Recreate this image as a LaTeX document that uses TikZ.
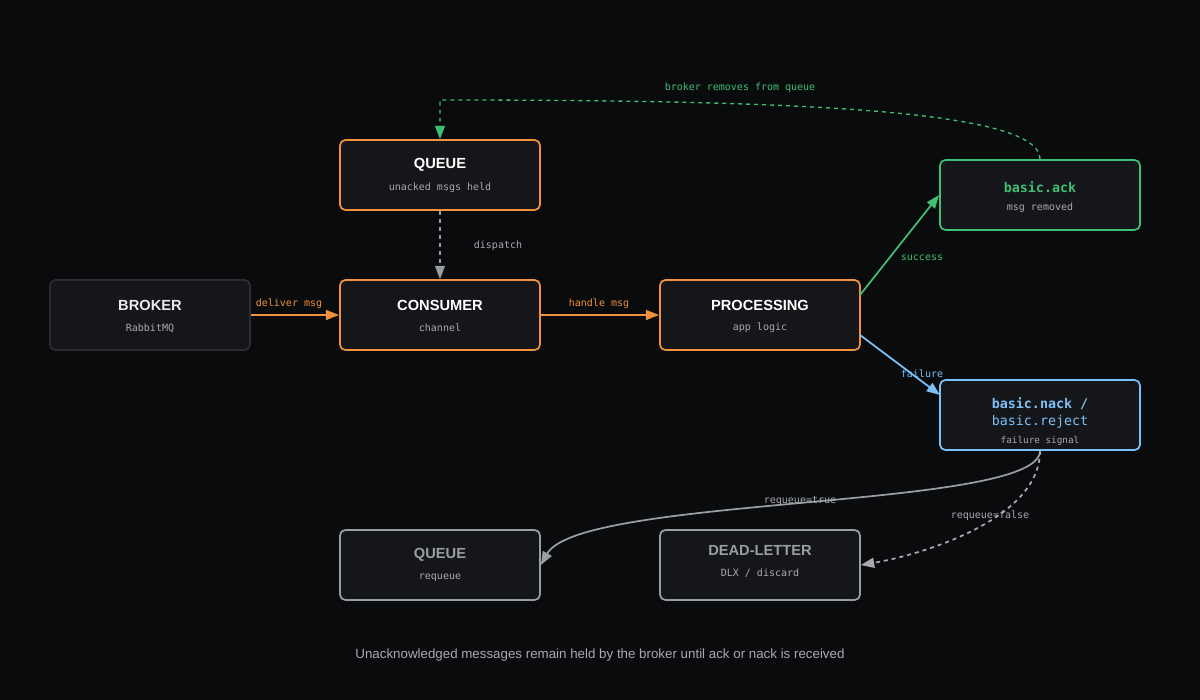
\documentclass[tikz,border=0pt]{standalone}
\usepackage{fontspec}
\setmainfont{Liberation Sans}
\setmonofont{DejaVu Sans Mono}
\usetikzlibrary{arrows.meta}
\definecolor{bg}{HTML}{0A0B0D}
\definecolor{boxf}{HTML}{15161A}
\definecolor{org}{HTML}{F0913F}
\definecolor{grn}{HTML}{3FBF73}
\definecolor{blu}{HTML}{7CC0F5}
\definecolor{gry}{HTML}{9A9DA3}
\definecolor{dgr}{HTML}{2C2D32}
\definecolor{sub}{HTML}{A8AAB0}
\begin{document}
\begin{tikzpicture}[x=0.75pt,y=-0.75pt,
 box/.style={draw=#1,fill=boxf,rounded corners=4pt,line width=1.3pt,minimum width=150pt,minimum height=52.5pt,inner sep=0pt},
 ttl/.style={font=\bfseries\fontsize{11}{13}\selectfont,text=#1},
 sb/.style={font=\ttfamily\fontsize{7.5}{9}\selectfont,text=sub},
 lab/.style={font=\ttfamily\fontsize{7.5}{9}\selectfont,text=#1},
 arr/.style={draw=#1,line width=1.3pt,-{Triangle[length=10pt,width=7.5pt]}}]
\fill[bg] (0,0) rectangle (1200,700);
\useasboundingbox (0,0) rectangle (1200,700);
\node[box=dgr] (broker) at (150,315) {};
\node[ttl=white!92!black] at (150,305) {BROKER};
\node[sb] at (150,328) {RabbitMQ};
\node[box=org] (queue) at (440,175) {};
\node[ttl=white] at (440,165) {QUEUE};
\node[sb] at (440,188) {unacked msgs held};
\node[box=org] (cons) at (440,315) {};
\node[ttl=white] at (440,305) {CONSUMER};
\node[sb] at (440,328) {channel};
\node[box=org] (proc) at (760,315) {};
\node[ttl=white] at (760,305) {PROCESSING};
\node[sb] at (760,328) {app logic};
\node[box=grn] (ack) at (1040,195) {};
\node[font=\ttfamily\bfseries\fontsize{10}{12}\selectfont,text=grn] at (1040,187) {basic.ack};
\node[sb] at (1040,208) {msg removed};
\node[box=blu] (nack) at (1040,415) {};
\node[font=\ttfamily\bfseries\fontsize{10}{12}\selectfont,text=blu] at (1040,404) {basic.nack /};
\node[font=\ttfamily\fontsize{10}{12}\selectfont,text=blu] at (1040,422) {basic.reject};
\node[font=\ttfamily\fontsize{7}{8}\selectfont,text=sub] at (1040,441) {failure signal};
\node[box=gry] (rq) at (440,565) {};
\node[ttl=gry] at (440,555) {QUEUE};
\node[sb] at (440,578) {requeue};
\node[box=gry] (dl) at (760,565) {};
\node[ttl=gry] at (760,550) {DEAD-LETTER};
\node[sb] at (760,573) {DLX / discard};
\coordinate (qt) at (440,100);
\draw[arr=grn,line width=1pt,dashed] (ack.north) .. controls (1040,110) and (800,100) .. (qt) -- (queue.north);
\node[lab=grn] at (740,88) {broker removes from queue};
\draw[arr=gry,line width=1pt,dashed] (queue.south) -- (cons.north);
\node[lab=sub] at (498,246) {dispatch};
\draw[arr=org] (broker.east) -- (cons.west);
\node[lab=org] at (289,304) {deliver msg};
\draw[arr=org] (cons.east) -- (proc.west);
\node[lab=org] at (599,304) {handle msg};
\draw[arr=grn] (860,295) -- (ack.west);
\node[lab=grn] at (922,258) {success};
\draw[arr=blu] (860,335) -- (940,395);
\node[lab=blu] at (922,374) {failure};
\draw[arr=gry] (nack.south) .. controls (1040,510) and (580,495) .. (rq.east);
\node[lab=sub] at (800,501) {requeue=true};
\draw[arr=sub,dashed] (nack.south) .. controls (1040,520) and (920,555) .. (dl.east);
\node[lab=sub] at (990,516) {requeue=false};
\node[font=\fontsize{10}{12}\selectfont,text=sub] at (600,655) {Unacknowledged messages remain held by the broker until ack or nack is received};
\end{tikzpicture}
\end{document}
